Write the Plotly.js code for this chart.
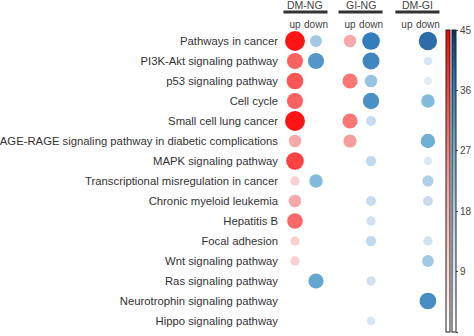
<!DOCTYPE html>
<html><head><meta charset="utf-8">
<script src="https://cdn.plot.ly/plotly-3.0.1.min.js"></script>
<style>html,body{margin:0;padding:0;background:#fff}</style>
</head><body><div id="chart" style="width:474px;height:336px"></div>
<script>
const pathways = ["Pathways in cancer","PI3K-Akt signaling pathway","p53 signaling pathway","Cell cycle","Small cell lung cancer","AGE-RAGE signaling pathway in diabetic complications","MAPK signaling pathway","Transcriptional misregulation in cancer","Chronic myeloid leukemia","Hepatitis B","Focal adhesion","Wnt signaling pathway","Ras signaling pathway","Neurotrophin signaling pathway","Hippo signaling pathway"];
const groups = ["DM-NG","GI-NG","DM-GI"];
const directions = ["up","down"];
const dmngUp   = [45,33,35,33,45,22,38,12,22,32,12,12,null,null,null];
const dmngDown = [20,33,null,null,null,null,null,25,null,null,null,null,30,null,null];
const gingUp   = [22,null,30,null,30,24,null,null,null,null,null,null,null,null,null];
const gingDown = [38,36,22,34,14,null,15,null,14,12,15,null,12,null,10];
const dmgiUp   = [null,null,null,null,null,null,null,null,null,null,null,null,null,null,null];
const dmgiDown = [40,10,8,25,null,28,9,18,14,null,12,20,null,35,null];
const colorbarTicks = [0,9,18,27,36,45];

const series = [dmngUp, dmngDown, gingUp, gingDown, dmgiUp, dmgiDown];
const xpos = [0, 1, 2.62, 3.62, 5.33, 6.33];
const redScale = [[0,'#ffffff'],[0.5,'#f6a0a0'],[1,'#ff0000']];
const blueScale = [[0,'#ffffff'],[0.3,'#c6dbef'],[0.6,'#6baed6'],[0.85,'#2171b5'],[1,'#08306b']];
const FONT = 'Liberation Sans, Arial, sans-serif';
const plotL = 283, plotR = 442;

const traces = series.map((vals, i) => {
  const xs = [], ys = [], cs = [];
  vals.forEach((v, j) => { if (v != null) { xs.push(xpos[i]); ys.push(pathways[j]); cs.push(v); } });
  const isUp = i % 2 === 0;
  const t = {
    type: 'scatter', mode: 'markers', x: xs, y: ys, hoverinfo: 'x+y',
    marker: {
      color: cs, size: cs.map(v => 5.5 + 0.32 * v),
      colorscale: isUp ? redScale : blueScale, cmin: 0, cmax: 45,
      opacity: 0.92, line: {width: 0},
      showscale: (i === 0 || i === 1)
    },
    showlegend: false
  };
  if (i === 0) {
    t.marker.colorbar = {xref:'container', x: 446/474, xanchor:'left', y: 1.003, yanchor:'top',
      lenmode:'pixels', len: 302, thickness: 4, xpad:0, ypad:0, outlinewidth: 1, outlinecolor:'#222',
      showticklabels:false, ticks:''};
  }
  if (i === 1) {
    t.marker.colorbar = {xref:'container', x: 452/474, xanchor:'left', y: 1.003, yanchor:'top',
      lenmode:'pixels', len: 302, thickness: 4, xpad:0, ypad:0, outlinewidth: 1, outlinecolor:'#222',
      tickvals: colorbarTicks, ticks:'outside', ticklen: 2, tickcolor:'#444',
      tickfont:{family: FONT, size:10, color:'#444'}};
  }
  return t;
});

const groupCenters = [0.5, 3.12, 5.83];
const annotations = groups.map((g, k) => ({
  text: g, x: groupCenters[k], xref:'x', y: 1 + (31 - 5) / 300, yref:'paper', yanchor:'middle', showarrow:false,
  font:{family: FONT, size:10.5, color:'#444'}
}));
const shapes = groups.map((g, k) => ({
  type:'line', xref:'x', yref:'paper', x0: groupCenters[k]-1.05, x1: groupCenters[k]+1.05,
  y0: 1 + (31-12)/300, y1: 1 + (31-12)/300, line:{color:'#333', width:3}
}));

const layout = {
  width: 474, height: 336,
  margin: {l: plotL, r: 474 - plotR, t: 31, b: 5, autoexpand:false},
  paper_bgcolor:'#fff', plot_bgcolor:'#fff',
  font: {family: FONT, color:'#222'},
  xaxis: {range:[-0.571, 7.0], side:'top', tickvals: xpos, ticktext: xpos.map((_, i) => directions[i % 2]),
    showgrid:false, zeroline:false, showline:false, ticks:'', ticklen:0,
    tickfont:{size:10, color:'#444'}, automargin:false, fixedrange:true},
  yaxis: {type:'category', categoryorder:'array', categoryarray: pathways, range:[14.5, -0.5],
    showgrid:false, zeroline:false, showline:false, ticks:'', ticklen:0, ticklabelstandoff: 4,
    tickfont:{size:11.3, color:'#333'}, automargin:false, fixedrange:true},
  annotations, shapes
};
Plotly.newPlot('chart', traces, layout, {displayModeBar:false, staticPlot:true});
</script></body></html>
